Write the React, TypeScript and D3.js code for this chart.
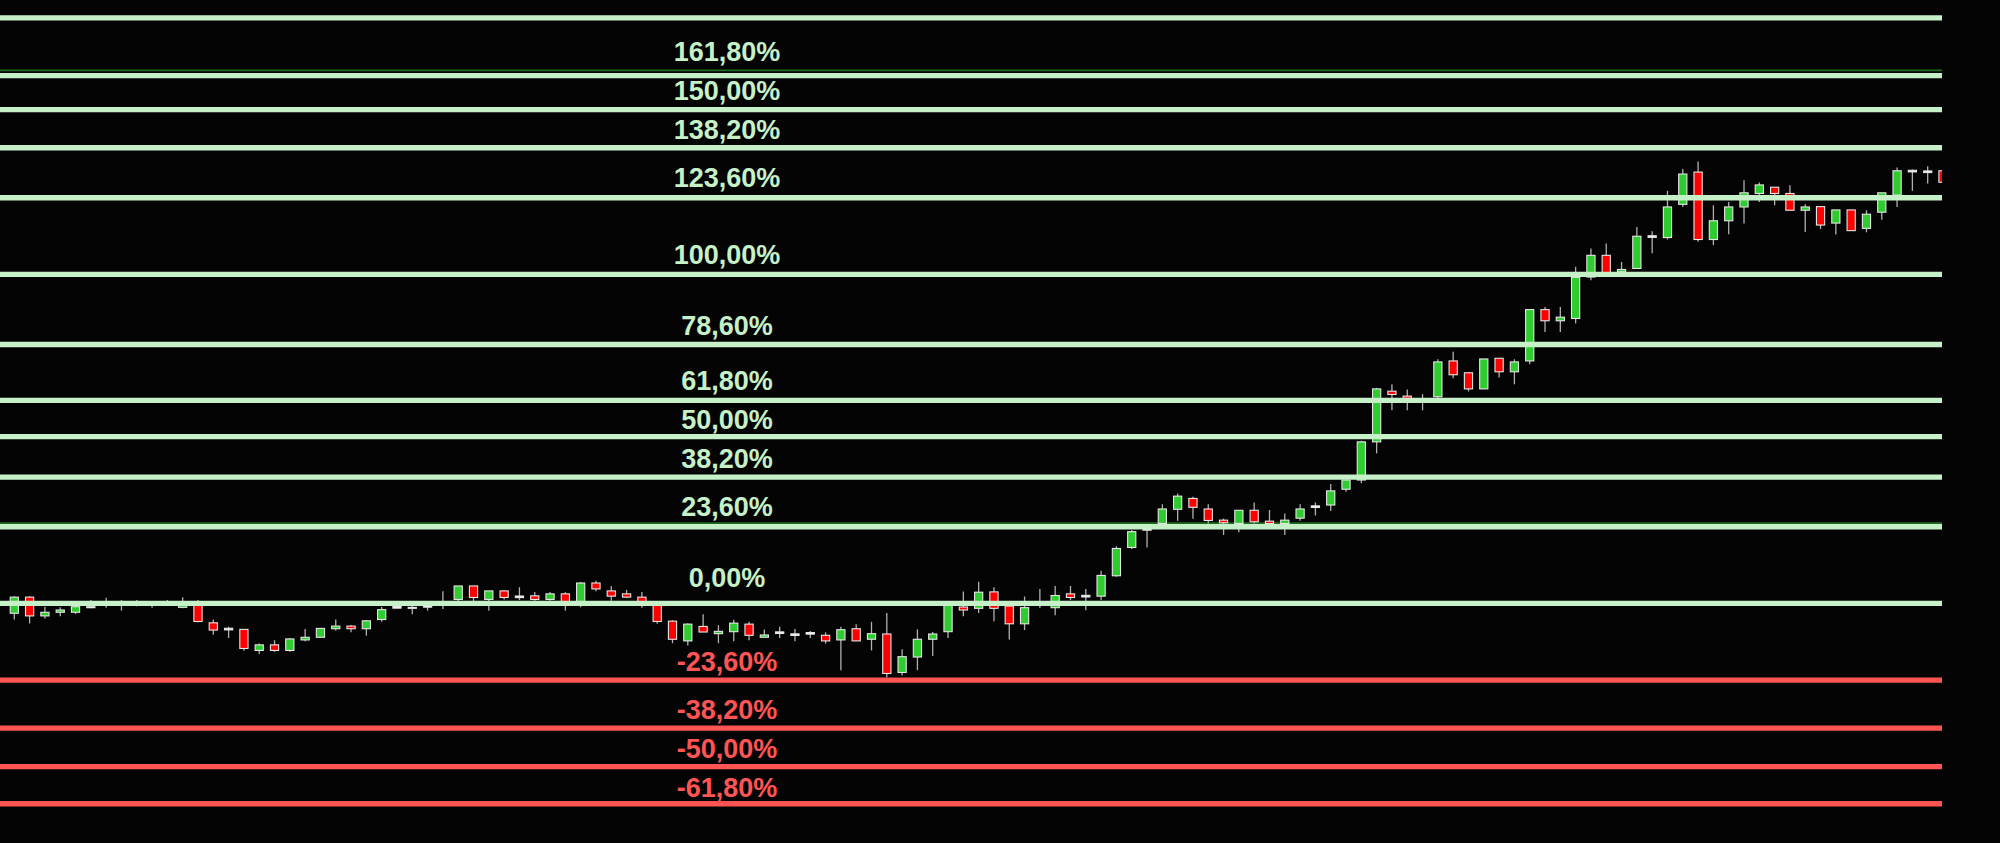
import React from "react";
import * as d3 from "d3";

// Fibonacci levels (values in % of the 0..100 swing)
const levelLabels = ["161,80%", "150,00%", "138,20%", "123,60%", "100,00%", "78,60%", "61,80%", "50,00%", "38,20%", "23,60%", "0,00%", "-23,60%", "-38,20%", "-50,00%", "-61,80%"];
const levelNominal = [161.8, 150, 138.2, 123.6, 100, 78.6, 61.8, 50, 38.2, 23.6, 0, -23.6, -38.2, -50, -61.8];
const levelValues = [160.4, 150.1, 138.5, 123.3, 100, 78.7, 61.7, 50.7, 38.4, 23.3, 0, -23.3, -37.9, -49.6, -60.9];
const extraLevels = [178.0];
const thinLevels = [162.0, 24.4];

// Candles (same % units)
const opens = [
  -3.0, 1.9, -3.8, -2.7, -2.7, -1.1, 0.1, 0, 0, 0, 0.2, -1.2, -0.4, -5.9, -7.8, -7.9, -14.3, -12.6, -14.3, -11.1,
  -10.3, -7.7, -6.9, -7.7, -4.9, -1.2, -1.2, -0.9, 0, 1.2, 5.3, 1.2, 3.8, 2.0, 2.3, 1.2, 2.9, 0.5, 6.2, 3.8,
  2.9, 1.9, -0.3, -5.4, -11.4, -7.0, -9.2, -8.6, -6.3, -10.3, -8.9, -9.5, -9.1, -9.7, -11.1, -7.7, -10.9, -9.3, -21.0, -16.3,
  -10.9, -8.6, -1.1, -1.5, 3.5, -0.8, -6.2, 0.3, -1.3, 2.9, 2.2, 2.2, 8.4, 17.0, 22.5, 24.3, 28.6, 31.9, 28.7, 25.3,
  24.3, 28.3, 25.0, 24.3, 25.9, 29.4, 29.9, 34.7, 37.5, 49.1, 64.5, 63.0, 61.5, 62.8, 73.7, 70.1, 65.2, 74.5, 70.4, 73.7,
  89.3, 85.9, 86.6, 99.2, 105.8, 100.8, 101.8, 111.5, 111.2, 121.3, 131.1, 110.6, 116.3, 120.5, 124.6, 126.5, 124.6, 119.5, 120.6, 115.6,
  119.6, 114.0, 118.9, 124.1, 131.4, 131.2, 131.5,
];
const highs = [
  2.2, 2.2, -1.0, -1.2, -0.6, 1.0, 1.7, 1.0, 1.0, 0.5, 1.0, 1.9, 1.0, -4.9, -7.1, -7.9, -12.2, -11.2, -10.5, -7.8,
  -7.6, -4.9, -6.6, -5.1, -1.1, 0.1, 0, 0, 3.7, 5.3, 5.3, 3.8, 4.0, 4.9, 3.5, 3.5, 3.4, 6.5, 6.9, 5.2,
  4.1, 3.5, 0, -5.1, -6.0, -3.3, -6.6, -5.0, -5.6, -7.9, -7.1, -7.8, -8.4, -8.8, -7.1, -6.3, -5.6, -2.9, -13.9, -7.9,
  -8.7, -0.5, 3.6, 6.6, 4.9, -0.5, 2.1, 4.4, 5.3, 5.3, 4.4, 9.9, 17.4, 22.3, 23.3, 30.1, 33.4, 32.4, 30.1, 25.8,
  28.3, 30.7, 28.4, 27.3, 30.1, 30.7, 36.3, 37.6, 49.4, 65.5, 66.6, 65.0, 63.6, 74.2, 76.5, 70.1, 74.3, 74.5, 74.2, 89.3,
  90.1, 90.1, 102.3, 107.9, 109.4, 103.8, 114.4, 113.1, 125.4, 132.0, 134.3, 121.0, 122.0, 128.6, 127.9, 126.5, 127.1, 121.3, 120.6, 119.6,
  119.6, 119.5, 124.8, 132.5, 131.9, 132.9, 131.5,
];
const lows = [
  -4.9, -6.1, -4.6, -3.9, -3.2, -1.5, -1.3, -2.2, -0.9, -1.3, -0.1, -1.5, -5.7, -9.5, -10.5, -14.4, -15.4, -14.7, -14.7, -11.5,
  -10.3, -8.2, -8.8, -9.8, -5.6, -1.5, -3.3, -2.2, -1.7, 0.5, 0.5, -2.2, 1.2, 1.0, 0.8, 0.8, -2.2, -1.2, 3.7, 0.8,
  1.7, -1.3, -6.2, -12.1, -12.8, -8.7, -12.1, -11.5, -11.2, -10.3, -10.5, -11.5, -10.5, -12.2, -20.3, -11.4, -14.3, -22.5, -21.9, -20.3,
  -16.0, -10.5, -3.9, -2.9, -5.4, -11.0, -8.1, -1.4, -3.6, 1.0, -2.1, 1.0, 8.1, 16.5, 17.0, 24.3, 25.1, 25.7, 24.3, 20.8,
  21.6, 24.3, 24.3, 20.8, 25.1, 26.7, 28.1, 33.9, 36.5, 45.6, 58.7, 58.7, 58.7, 62.1, 68.4, 64.4, 65.2, 68.7, 66.6, 72.7,
  82.5, 82.5, 85.1, 98.2, 100.0, 100.3, 101.8, 106.4, 110.6, 120.5, 109.9, 108.9, 112.2, 115.5, 122.0, 121.0, 119.5, 112.9, 113.8, 112.1,
  113.3, 112.8, 116.6, 120.5, 125.4, 127.6, 128.0,
];
const closes = [
  1.9, -3.8, -2.7, -2.0, -1.0, -1.0, 0.2, -0.1, 0, 0, 0.3, 0.4, -5.5, -8.1, -7.8, -13.7, -12.6, -14.3, -10.8, -10.3,
  -7.6, -6.9, -7.7, -5.3, -1.9, -1.2, -1.3, -0.9, 0, 5.3, 1.8, 3.8, 1.8, 2.0, 1.2, 2.9, 0.5, 6.2, 4.4, 2.2,
  1.9, 0, -5.5, -10.9, -6.3, -8.7, -8.5, -6.0, -9.7, -9.6, -8.9, -9.5, -9.1, -11.4, -8.0, -11.4, -9.2, -21.3, -16.2, -10.9,
  -9.3, -0.5, -2.0, 3.4, -1.5, -6.2, -1.3, 0.3, 2.4, 1.8, 2.2, 8.5, 16.7, 21.8, 22.5, 28.7, 32.6, 29.2, 25.2, 24.5,
  28.3, 24.8, 24.3, 25.3, 28.7, 29.4, 34.2, 37.5, 49.1, 65.2, 63.5, 62.3, 61.5, 73.4, 69.5, 65.2, 74.3, 70.4, 73.4, 89.3,
  85.9, 87.0, 99.1, 105.8, 100.3, 101.5, 111.6, 111.5, 120.5, 130.5, 110.6, 116.3, 120.5, 124.8, 127.2, 124.6, 119.5, 120.5, 115.0, 119.6,
  113.3, 118.3, 124.8, 131.5, 131.4, 131.2, 128.0,
];

const W = 2000;
const H = 843;
const PLOT_RIGHT = 1942;
const GREEN_LINE = "#c6f0c8";
const RED_LINE = "#ff5454";
const UP = "#2ecc2e";
const DOWN = "#ff0000";

export default function App() {
  const x = d3.scaleLinear().domain([0, opens.length - 1]).range([14.3, 1943]);
  const y = d3.scaleLinear().domain([0, 100]).range([603.4, 274.4]);
  const bodyW = 8.2;

  return (
    <div style={{ position: "fixed", left: 0, top: 0, width: W, height: H, background: "#040404" }}>
      <svg width={W} height={H} style={{ display: "block" }}>
        <defs>
          <clipPath id="plot">
            <rect x={0} y={0} width={PLOT_RIGHT} height={H} />
          </clipPath>
        </defs>
        <rect x={0} y={0} width={W} height={H} fill="#040404" />
        {thinLevels.map((v, i) => (
          <line key={"t" + i} x1={0} x2={PLOT_RIGHT} y1={y(v)} y2={y(v)} stroke="#1d6b1d" strokeWidth={1.6} />
        ))}
        <g clipPath="url(#plot)">
          {opens.map((o, i) => {
            const c = closes[i];
            const cx = x(i);
            const up = c > o;
            const top = y(Math.max(o, c));
            const bot = y(Math.min(o, c));
            const doji = Math.abs(o - c) < 0.05;
            return (
              <g key={i}>
                <line x1={cx} x2={cx} y1={y(highs[i])} y2={y(lows[i])} stroke="#b0b0b0" strokeWidth={1.3} />
                <rect
                  x={cx - bodyW / 2}
                  y={doji ? top - 0.8 : top}
                  width={bodyW}
                  height={doji ? 1.6 : Math.max(bot - top, 1)}
                  fill={doji ? "#f4f4f4" : up ? UP : DOWN}
                  stroke="#e6e6e6"
                  strokeWidth={1.1}
                />
              </g>
            );
          })}
        </g>
        {extraLevels.map((v, i) => (
          <line key={"e" + i} x1={0} x2={PLOT_RIGHT} y1={y(v)} y2={y(v)} stroke={GREEN_LINE} strokeWidth={5.3} />
        ))}
        {levelValues.map((v, i) => {
          const col = v < 0 ? RED_LINE : GREEN_LINE;
          const ly = y(v);
          const ty = y(levelNominal[i]) - (levelNominal[i] === 0 ? 16 : 10);
          return (
            <g key={"l" + i}>
              <line x1={0} x2={PLOT_RIGHT} y1={ly} y2={ly} stroke={col} strokeWidth={5.3} />
              <text
                x={727}
                y={ty}
                textAnchor="middle"
                fill={col}
                fontFamily="'Liberation Sans', Arial, sans-serif"
                fontWeight="bold"
                fontSize={27}
              >
                {levelLabels[i]}
              </text>
            </g>
          );
        })}
      </svg>
    </div>
  );
}
